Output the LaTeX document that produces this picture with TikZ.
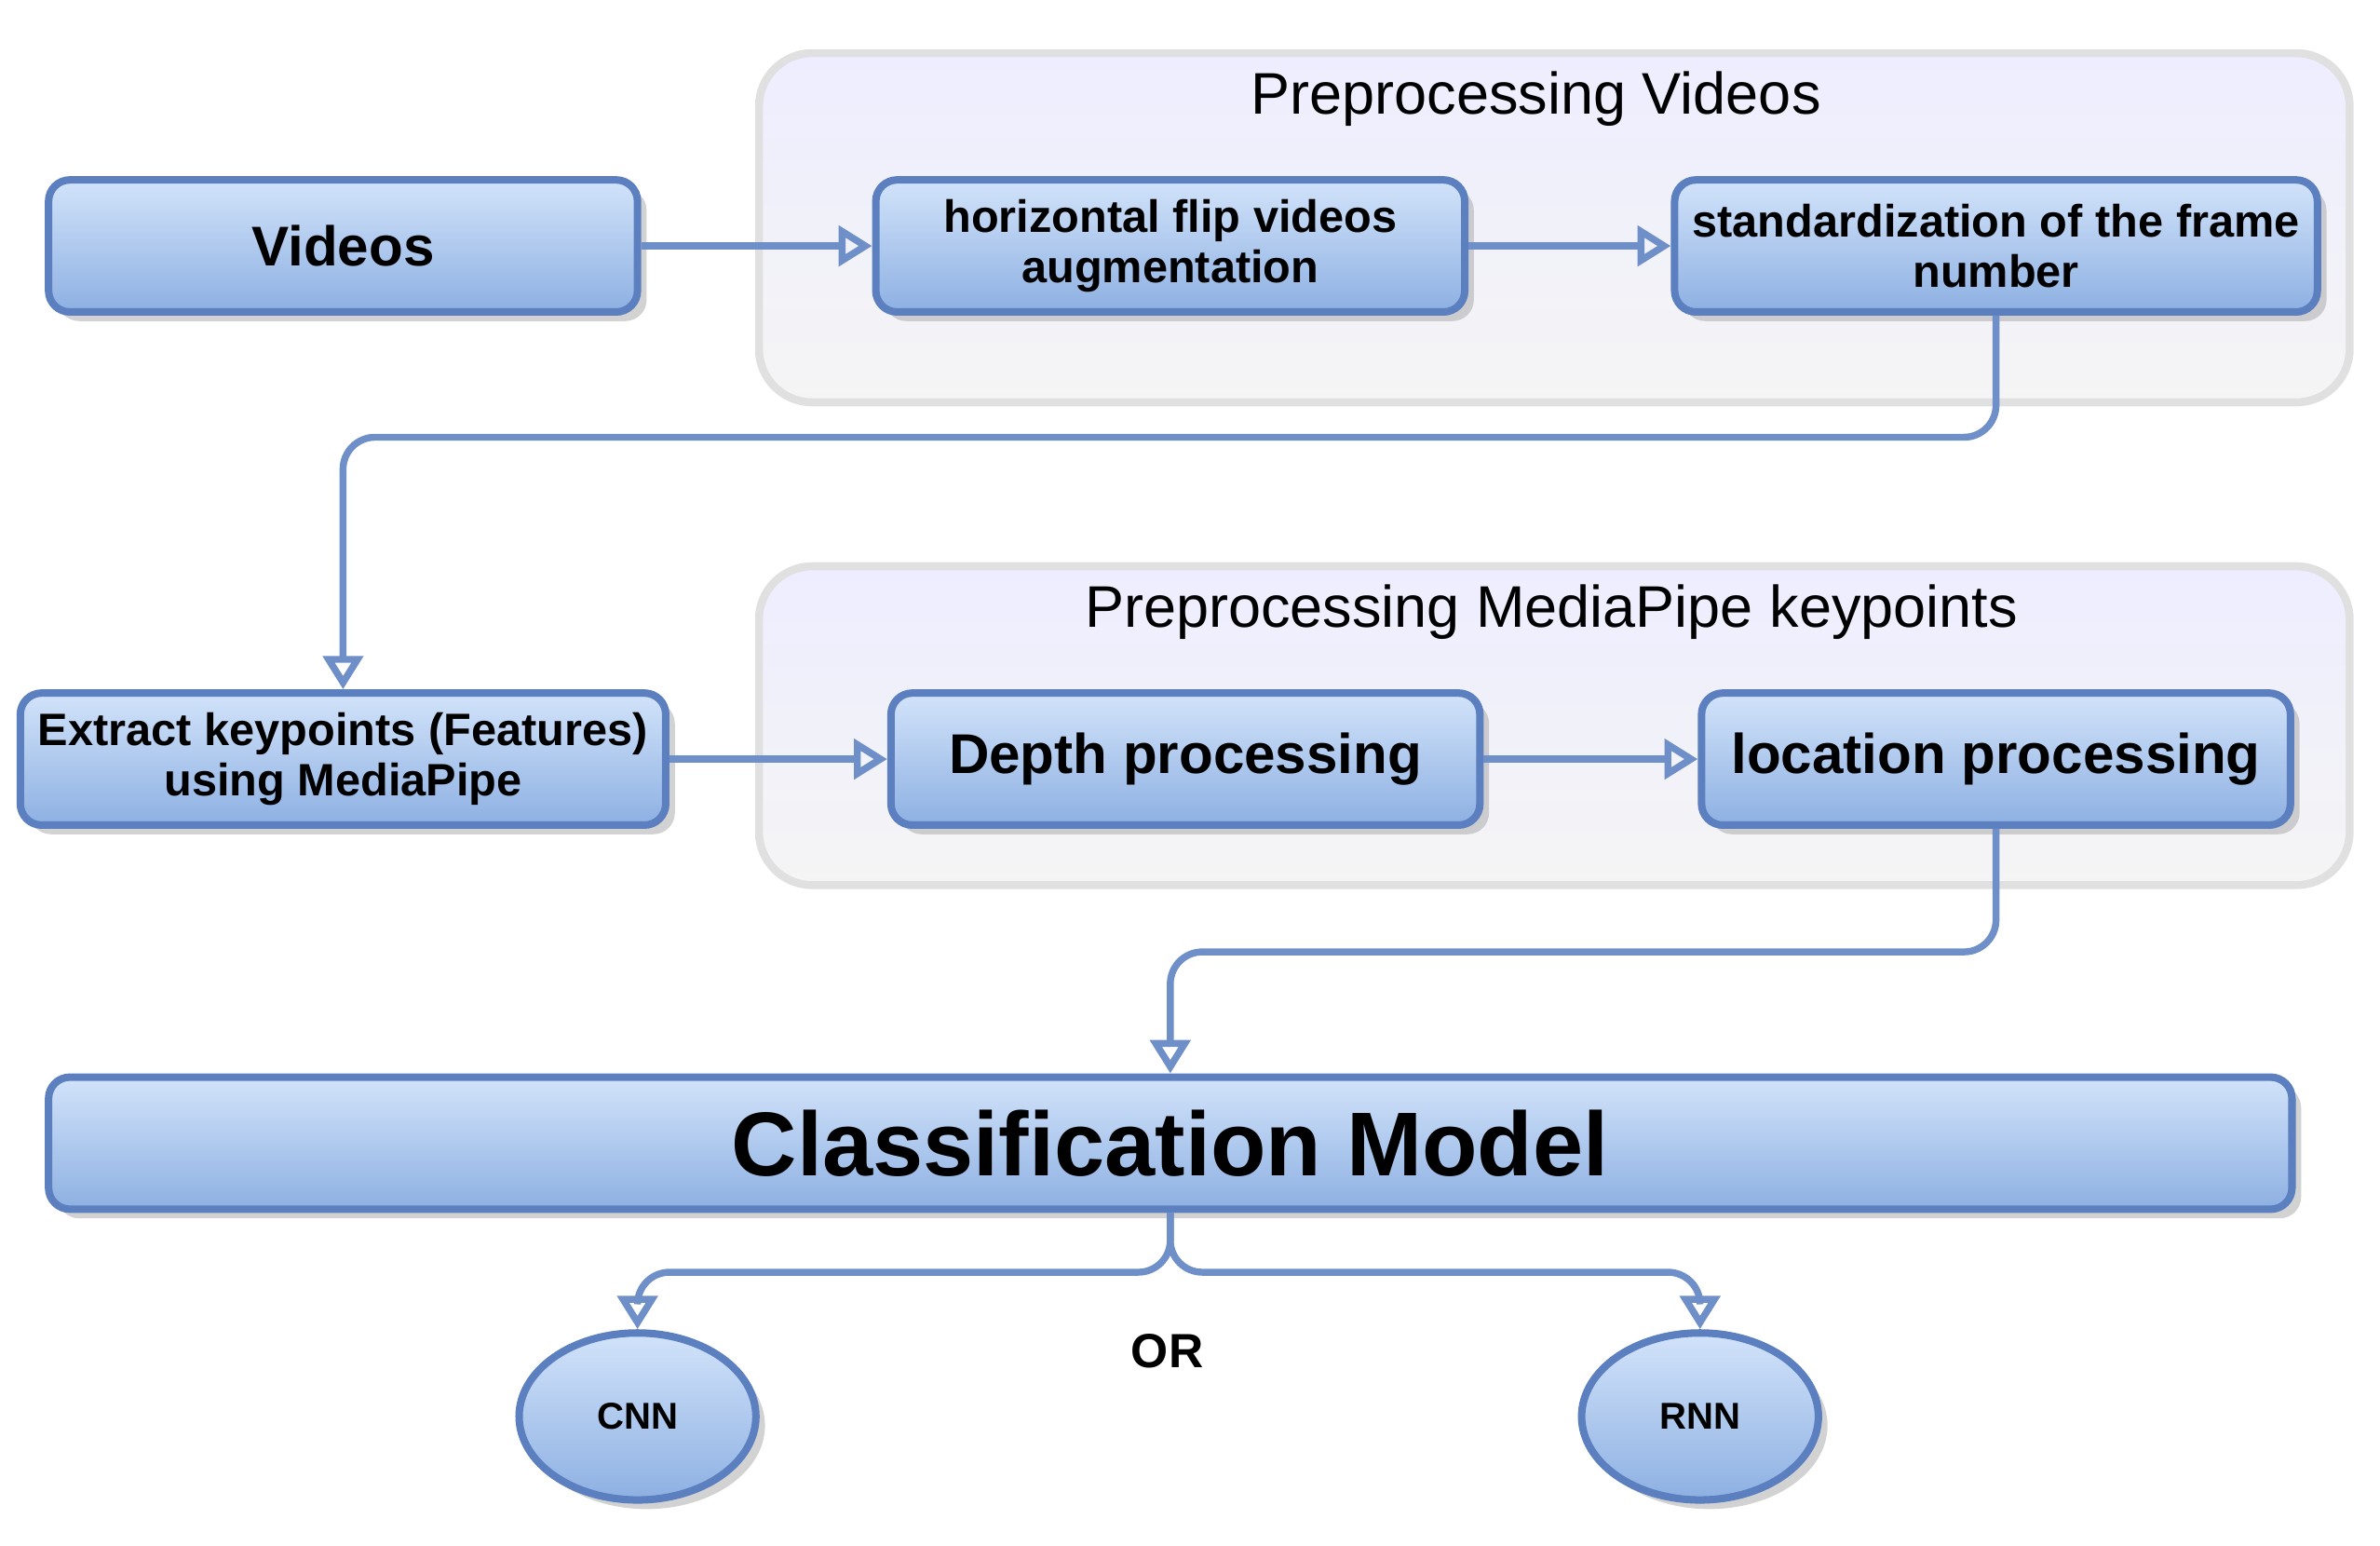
\documentclass[tikz,border=0pt]{standalone}
\usepackage{fontspec}
\setmainfont{Liberation Sans}
\usetikzlibrary{arrows.meta,shadows,shapes.geometric,positioning}
\definecolor{edge}{HTML}{5B7FBF}
\definecolor{topc}{HTML}{D2E3FA}
\definecolor{botc}{HTML}{8DB0E2}
\definecolor{line}{HTML}{6F8FC9}
\tikzset{
  stage/.style={draw=edge, line width=1.4pt, rounded corners=4pt, top color=topc, bottom color=botc,
    minimum width=3.88cm, minimum height=0.87cm, align=center, font=\bfseries\fontsize{8.5}{9.5}\selectfont,
    drop shadow={shadow xshift=0.6mm, shadow yshift=-0.6mm, fill=black!35}},
  model/.style={stage, ellipse, minimum width=1.56cm, minimum height=1.1cm, font=\bfseries\scriptsize},
  group/.style={draw=black!12, line width=1.5pt, rounded corners=10pt, top color=blue!7!white, bottom color=black!4},
  link/.style={draw=line, line width=1.3pt, rounded corners=6pt, -{Triangle[open, length=2.2mm, width=2.6mm]}},
}
\begin{document}
\begin{tikzpicture}
    \useasboundingbox (0,0) rectangle (15.68,10.18);
    % groups
    \draw[group] (5.00,7.53) rectangle (15.48,9.83);
    \node[font=\fontsize{11}{12}\selectfont] (t1) at (10.12,9.53) {Preprocessing Videos};
    \draw[group] (5.00,4.35) rectangle (15.48,6.45);
    \node[font=\fontsize{11}{12}\selectfont] (t2) at (10.22,6.15) {Preprocessing MediaPipe keypoints};
    % stages
    \node[stage, font=\bfseries\fontsize{10.5}{12}\selectfont] (vid) at (2.26,8.56) {Videos};
    \node[stage] (flip) at (7.71,8.56) {horizontal flip videos\\augmentation};
    \node[stage] (std) at (13.15,8.56) {standardization of the frame\\number};
    \node[stage] (ext) at (2.26,5.18) {Extract keypoints (Features)\\using MediaPipe};
    \node[stage, font=\bfseries\fontsize{10.5}{12}\selectfont] (dep) at (7.81,5.18) {Depth processing};
    \node[stage, font=\bfseries\fontsize{10.5}{12}\selectfont] (loc) at (13.15,5.18) {location processing};
    \node[stage, minimum width=14.78cm, font=\bfseries\fontsize{17}{20}\selectfont] (cls) at (7.71,2.65) {Classification Model};
    \node[model] (cnn) at (4.20,0.85) {CNN};
    \node[model] (rnn) at (11.20,0.85) {RNN};
    \node[font=\bfseries\fontsize{9}{10}\selectfont] (or) at (7.69,1.28) {OR};
    % links
    \draw[link] (vid) -- (flip);
    \draw[link] (flip) -- (std);
    \draw[link] (std.south) |- (5.0,7.30) -| (ext.north);
    \draw[link] (ext) -- (dep);
    \draw[link] (dep) -- (loc);
    \draw[link] (loc.south) |- (10.0,3.91) -| (cls.north);
    \draw[link] (cls.south) |- (6.0,1.80) -| (cnn.north);
    \draw[link] (cls.south) |- (9.0,1.80) -| (rnn.north);
\end{tikzpicture}
\end{document}
